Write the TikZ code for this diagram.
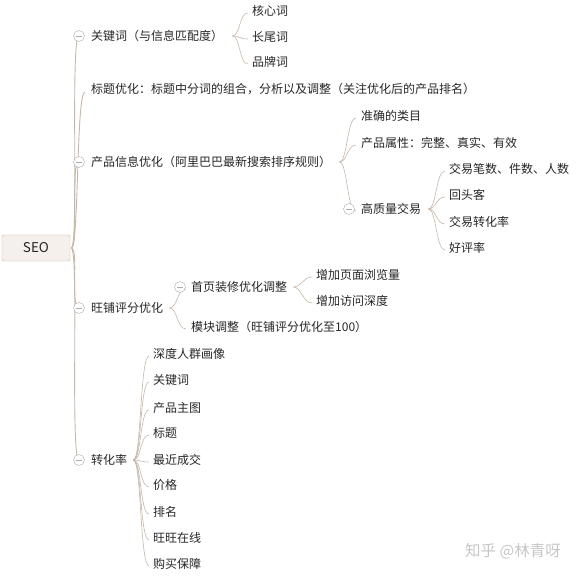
\documentclass[tikz,border=0pt]{standalone}
\usepackage{fontspec}
\newfontfamily\cjk{Noto Sans CJK SC}
\usetikzlibrary{calc}

\definecolor{linec}{HTML}{C6B7A8}
\definecolor{rootfill}{HTML}{F5F0EB}
\definecolor{rootline}{HTML}{C9B8A8}
\definecolor{textc}{HTML}{262626}

\tikzset{
  topic/.style={anchor=west, inner sep=0pt, text=textc, font=\cjk\fontsize{12}{13}\selectfont},
  rootbox/.style={draw=rootline, fill=rootfill, rounded corners=1.5pt, minimum width=68pt,
    minimum height=26pt, inner sep=0pt, text=textc, font=\cjk\fontsize{13.5}{14}\selectfont},
  fold/.style={circle, draw=gray!65, fill=white, minimum size=11pt, inner sep=0pt,
    path picture={\draw[gray!65, line width=0.6pt] ([xshift=2.5pt]path picture bounding box.west)
      -- ([xshift=-2.5pt]path picture bounding box.east);}},
  branch/.style={draw=linec, line width=0.6pt},
  mainbranch/.style={draw=linec, line width=0.9pt}
}

\newcommand{\linkto}[3][branch]{\draw[#1] (#2) .. controls +(8,0) and +(-9,0) .. (#3);}

\begin{document}
\begin{tikzpicture}[x=1pt, y=-1pt]
\useasboundingbox (0,0) rectangle (584,577);

\node[rootbox] (seo) at (36,248) {SEO};
\coordinate (seoR) at ($(seo.east)+(1,0)$);

% first level
\node[topic] (k1) at (91,36) {关键词（与信息匹配度）};
\node[topic] (k2) at (91,89) {标题优化：标题中分词的组合，分析以及调整（关注优化后的产品排名）};
\node[topic] (k3) at (91,162) {产品信息优化（阿里巴巴最新搜索排序规则）};
\node[topic] (k4) at (91,308) {旺铺评分优化};
\node[topic] (k5) at (91,460) {转化率};

\coordinate (k2L) at ($(k2.west)+(-6,3)$);
\foreach \i in {1,3,4,5} {
    \linkto[mainbranch]{seoR}{$(k\i.west)+(-12,0)$}
}
\linkto[mainbranch]{seoR}{k2L}

% keywords
\coordinate (k1R) at ($(k1.east)+(9,0)$);
\foreach \t/\y [count=\i] in {核心词/11, 长尾词/37, 品牌词/62} {
    \node[topic] (k1c\i) at (252,\y) {\t};
    \linkto{k1R}{$(k1c\i.west)+(-4,2)$}
}

% product info
\coordinate (k3R) at ($(k3.east)+(8,0)$);
\foreach \t/\y [count=\i] in {准确的类目/116, 产品属性：完整、真实、有效/143, 高质量交易/209} {
    \node[topic] (k3c\i) at (361,\y) {\t};
    \linkto{k3R}{$(k3c\i.west)+(-5,2)$}
}

\coordinate (k33R) at ($(k3c3.east)+(7,0)$);
\foreach \t/\y [count=\i] in {交易笔数、件数、人数/169, 回头客/195, 交易转化率/222, 好评率/248} {
    \node[topic] (k33c\i) at (449,\y) {\t};
    \linkto{k33R}{$(k33c\i.west)+(-4,2)$}
}

% shop rating
\coordinate (k4R) at ($(k4.east)+(6,0)$);
\foreach \t/\y [count=\i] in {首页装修优化调整/287, 模块调整（旺铺评分优化至100）/327} {
    \node[topic] (k4c\i) at (191,\y) {\t};
    \linkto{k4R}{$(k4c\i.west)+(-5,2)$}
}

\coordinate (k41R) at ($(k4c1.east)+(6,0)$);
\foreach \t/\y [count=\i] in {增加页面浏览量/275, 增加访问深度/301} {
    \node[topic] (k41c\i) at (316,\y) {\t};
    \linkto{k41R}{$(k41c\i.west)+(-4,2)$}
}

% conversion
\coordinate (k5R) at ($(k5.east)+(6,0)$);
\foreach \t/\y [count=\i] in {深度人群画像/354, 关键词/380, 产品主图/408, 标题/433, 最近成交/460,
        价格/485, 排名/512, 旺旺在线/538, 购买保障/564} {
    \node[topic] (k5c\i) at (153,\y) {\t};
    \linkto{k5R}{$(k5c\i.west)+(-4,2)$}
}

% fold markers
\foreach \n in {k1,k3,k4,k5}
    \node[fold] (f\n) at ($(\n.west)+(-12,0)$) {};
\node[fold] (fk3c3) at ($(k3c3.west)+(-12,0)$) {};
\node[fold] (fk4c1) at ($(k4c1.west)+(-11,0)$) {};

\node[text=gray!45, font=\cjk\fontsize{15.5}{16}\selectfont] (mark) at (513,551) {知乎 @林青呀};

\end{tikzpicture}
\end{document}
